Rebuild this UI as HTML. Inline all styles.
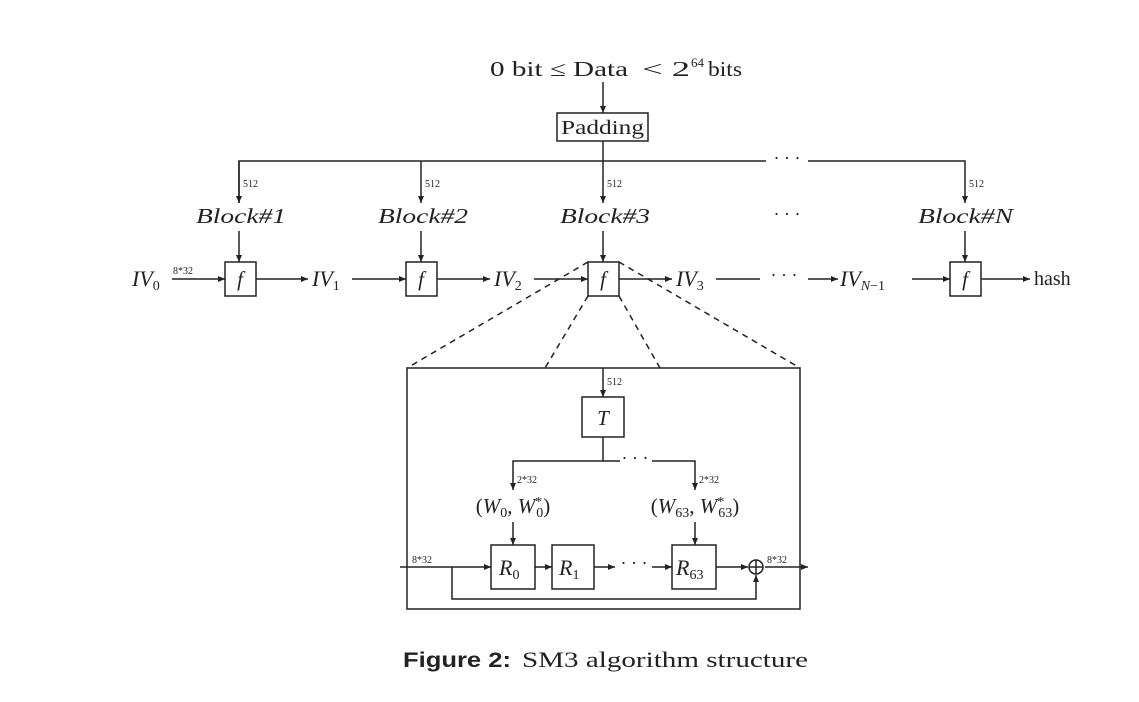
<!DOCTYPE html>
<html><head><meta charset="utf-8"><style>body{margin:0;background:#fff}</style></head><body>
<svg width="1139" height="697" xmlns="http://www.w3.org/2000/svg" font-family="Liberation Serif, serif" fill="#222">
<defs><marker id="a" markerWidth="8" markerHeight="8" refX="7" refY="4" orient="auto" markerUnits="userSpaceOnUse"><path d="M0,1 L7,4 L0,7 z" fill="#222"/></marker></defs>
<g stroke="#222" stroke-width="1.5" fill="none">
<line x1="603" y1="82" x2="603" y2="113" marker-end="url(#a)"/>
<rect x="557" y="113" width="91" height="28"/>
<line x1="603" y1="141" x2="603" y2="161"/>
<polyline points="239,203 239,161 766,161"/>
<polyline points="808,161 965,161 965,203" marker-end="url(#a)"/>
<line x1="239" y1="161" x2="239" y2="203" marker-end="url(#a)"/>
<line x1="421" y1="161" x2="421" y2="203" marker-end="url(#a)"/>
<line x1="603" y1="161" x2="603" y2="203" marker-end="url(#a)"/>
<line x1="239" y1="231" x2="239" y2="262" marker-end="url(#a)"/>
<line x1="421" y1="231" x2="421" y2="262" marker-end="url(#a)"/>
<line x1="603" y1="231" x2="603" y2="262" marker-end="url(#a)"/>
<line x1="965" y1="231" x2="965" y2="262" marker-end="url(#a)"/>
<rect x="225" y="262" width="31" height="34"/>
<rect x="406" y="262" width="31" height="34"/>
<rect x="588" y="262" width="31" height="34"/>
<rect x="950" y="262" width="31" height="34"/>
<line x1="172" y1="279" x2="225" y2="279" marker-end="url(#a)"/>
<line x1="256" y1="279" x2="308" y2="279" marker-end="url(#a)"/>
<line x1="352" y1="279" x2="406" y2="279" marker-end="url(#a)"/>
<line x1="437" y1="279" x2="490" y2="279" marker-end="url(#a)"/>
<line x1="534" y1="279" x2="588" y2="279" marker-end="url(#a)"/>
<line x1="619" y1="279" x2="672" y2="279" marker-end="url(#a)"/>
<line x1="716" y1="279" x2="760" y2="279"/>
<line x1="808" y1="279" x2="838" y2="279" marker-end="url(#a)"/>
<line x1="912" y1="279" x2="950" y2="279" marker-end="url(#a)"/>
<line x1="981" y1="279" x2="1030" y2="279" marker-end="url(#a)"/>
<g stroke-dasharray="6,5"><line x1="588" y1="262" x2="407" y2="368"/><line x1="619" y1="262" x2="800" y2="368"/><line x1="588" y1="296" x2="545" y2="368"/><line x1="619" y1="296" x2="660" y2="368"/></g>
<rect x="407" y="368" width="393" height="241"/>
<line x1="603" y1="368" x2="603" y2="397" marker-end="url(#a)"/>
<rect x="582" y="397" width="42" height="40"/>
<polyline points="603,437 603,461 620,461"/>
<polyline points="603,461 513,461 513,490" marker-end="url(#a)"/>
<polyline points="652,461 695,461 695,490" marker-end="url(#a)"/>
<line x1="513" y1="522" x2="513" y2="545" marker-end="url(#a)"/>
<line x1="695" y1="522" x2="695" y2="545" marker-end="url(#a)"/>
<rect x="491" y="545" width="44" height="44"/>
<rect x="552" y="545" width="42" height="44"/>
<rect x="672" y="545" width="44" height="44"/>
<line x1="400" y1="567" x2="491" y2="567" marker-end="url(#a)"/>
<line x1="535" y1="567" x2="552" y2="567" marker-end="url(#a)"/>
<line x1="594" y1="567" x2="615" y2="567" marker-end="url(#a)"/>
<line x1="652" y1="567" x2="672" y2="567" marker-end="url(#a)"/>
<line x1="716" y1="567" x2="748" y2="567" marker-end="url(#a)"/>
<polyline points="452,567 452,599 756,599 756,575" marker-end="url(#a)"/>
<circle cx="756" cy="567" r="7"/><line x1="749" y1="567" x2="763" y2="567"/><line x1="756" y1="560" x2="756" y2="574"/>
<line x1="765" y1="567" x2="808" y2="567" marker-end="url(#a)"/>
</g>
<text x="490" y="76" font-size="21" textLength="138" lengthAdjust="spacingAndGlyphs">0 bit ≤  Data</text>
<text x="642" y="76" font-size="21" textLength="48" lengthAdjust="spacingAndGlyphs">&lt; 2</text>
<text x="691" y="67" font-size="13">64</text>
<text x="708" y="76" font-size="21" textLength="34" lengthAdjust="spacingAndGlyphs">bits</text>
<text x="561" y="134" font-size="20" textLength="83" lengthAdjust="spacingAndGlyphs">Padding</text>
<g font-size="10"><text x="243" y="187">512</text><text x="425" y="187">512</text><text x="607" y="187">512</text><text x="969" y="187">512</text><text x="607" y="385">512</text>
<text x="173" y="274">8*32</text><text x="517" y="483">2*32</text><text x="699" y="483">2*32</text><text x="412" y="563">8*32</text><text x="767" y="563">8*32</text></g>
<text x="787" y="164" font-size="18" text-anchor="middle">· · ·</text>
<text x="787" y="220" font-size="18" text-anchor="middle">· · ·</text>
<text x="784" y="281" font-size="18" text-anchor="middle">· · ·</text>
<text x="635" y="464" font-size="18" text-anchor="middle">· · ·</text>
<text x="634" y="569" font-size="18" text-anchor="middle">· · ·</text>
<g font-size="21" font-style="italic">
<text x="196" y="223" textLength="90" lengthAdjust="spacingAndGlyphs">Block#1</text><text x="378" y="223" textLength="90" lengthAdjust="spacingAndGlyphs">Block#2</text><text x="560" y="223" textLength="90" lengthAdjust="spacingAndGlyphs">Block#3</text><text x="918" y="223" textLength="95" lengthAdjust="spacingAndGlyphs">Block#N</text>
</g>
<g font-size="21" font-style="italic" text-anchor="middle">
<text x="240" y="286">f</text><text x="421" y="286">f</text><text x="603" y="286">f</text><text x="965" y="286">f</text>
<text x="603" y="425">T</text>
</g>
<g font-size="22" font-style="italic">
<text x="132" y="286">IV<tspan font-size="14" font-style="normal" dy="4">0</tspan></text>
<text x="312" y="286">IV<tspan font-size="14" font-style="normal" dy="4">1</tspan></text>
<text x="494" y="286">IV<tspan font-size="14" font-style="normal" dy="4">2</tspan></text>
<text x="676" y="286">IV<tspan font-size="14" font-style="normal" dy="4">3</tspan></text>
<text x="840" y="286">IV<tspan font-size="14" dy="4">N</tspan><tspan font-size="14" font-style="normal">−1</tspan></text>
<text x="499" y="575">R<tspan font-size="14" font-style="normal" dy="4">0</tspan></text>
<text x="559" y="575">R<tspan font-size="14" font-style="normal" dy="4">1</tspan></text>
<text x="676" y="575">R<tspan font-size="14" font-style="normal" dy="4">63</tspan></text>
</g>
<text x="1034" y="285" font-size="20">hash</text>
<text x="513" y="513" font-size="21" text-anchor="middle">(<tspan font-style="italic">W</tspan><tspan font-size="14" dy="4">0</tspan><tspan dy="-4">, </tspan><tspan font-style="italic">W</tspan><tspan font-size="14" dy="-7">*</tspan><tspan font-size="14" dx="-6" dy="11">0</tspan><tspan dy="-4">)</tspan></text>
<text x="695" y="513" font-size="21" text-anchor="middle">(<tspan font-style="italic">W</tspan><tspan font-size="14" dy="4">63</tspan><tspan dy="-4">, </tspan><tspan font-style="italic">W</tspan><tspan font-size="14" dy="-7">*</tspan><tspan font-size="14" dx="-6" dy="11">63</tspan><tspan dy="-4">)</tspan></text>
<text x="403" y="667" font-size="21" font-family="Liberation Sans, sans-serif" font-weight="bold" textLength="108" lengthAdjust="spacingAndGlyphs">Figure 2:</text>
<text x="522" y="667" font-size="22" textLength="286" lengthAdjust="spacingAndGlyphs">SM3 algorithm structure</text>
</svg>
</body></html>
